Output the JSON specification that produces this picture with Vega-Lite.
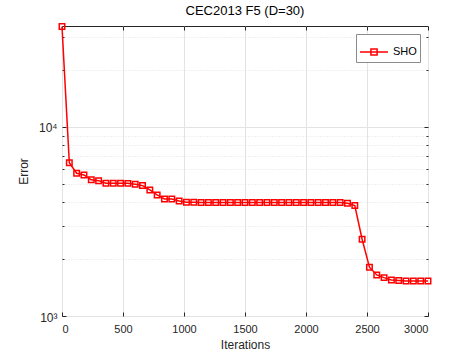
{
  "$schema": "https://vega.github.io/schema/vega-lite/v6.json",
  "autosize": {"type": "none"},
  "width": 366,
  "height": 290,
  "padding": {"left": 62, "top": 26, "right": 46, "bottom": 39},
  "background": "white",
  "title": {"text": "CEC2013 F5 (D=30)", "font": "Liberation Sans", "fontSize": 13, "fontWeight": "normal", "color": "#000000", "offset": 3},
  "config": {"view": {"stroke": "#262626", "strokeWidth": 1}, "font": "Liberation Sans"},
  "data": {"values": [
    {"iter": 0, "err": 34000, "algo": "SHO"},
    {"iter": 60, "err": 6475, "algo": "SHO"},
    {"iter": 120, "err": 5690, "algo": "SHO"},
    {"iter": 180, "err": 5570, "algo": "SHO"},
    {"iter": 240, "err": 5250, "algo": "SHO"},
    {"iter": 300, "err": 5200, "algo": "SHO"},
    {"iter": 360, "err": 5035, "algo": "SHO"},
    {"iter": 420, "err": 5035, "algo": "SHO"},
    {"iter": 480, "err": 5035, "algo": "SHO"},
    {"iter": 540, "err": 5030, "algo": "SHO"},
    {"iter": 600, "err": 4975, "algo": "SHO"},
    {"iter": 660, "err": 4895, "algo": "SHO"},
    {"iter": 720, "err": 4645, "algo": "SHO"},
    {"iter": 780, "err": 4370, "algo": "SHO"},
    {"iter": 840, "err": 4160, "algo": "SHO"},
    {"iter": 900, "err": 4155, "algo": "SHO"},
    {"iter": 960, "err": 4060, "algo": "SHO"},
    {"iter": 1020, "err": 3995, "algo": "SHO"},
    {"iter": 1080, "err": 3992, "algo": "SHO"},
    {"iter": 1140, "err": 3990, "algo": "SHO"},
    {"iter": 1200, "err": 3990, "algo": "SHO"},
    {"iter": 1260, "err": 3990, "algo": "SHO"},
    {"iter": 1320, "err": 3990, "algo": "SHO"},
    {"iter": 1380, "err": 3989, "algo": "SHO"},
    {"iter": 1440, "err": 3989, "algo": "SHO"},
    {"iter": 1500, "err": 3989, "algo": "SHO"},
    {"iter": 1560, "err": 3988, "algo": "SHO"},
    {"iter": 1620, "err": 3988, "algo": "SHO"},
    {"iter": 1680, "err": 3988, "algo": "SHO"},
    {"iter": 1740, "err": 3988, "algo": "SHO"},
    {"iter": 1800, "err": 3987, "algo": "SHO"},
    {"iter": 1860, "err": 3987, "algo": "SHO"},
    {"iter": 1920, "err": 3987, "algo": "SHO"},
    {"iter": 1980, "err": 3987, "algo": "SHO"},
    {"iter": 2040, "err": 3986, "algo": "SHO"},
    {"iter": 2100, "err": 3986, "algo": "SHO"},
    {"iter": 2160, "err": 3986, "algo": "SHO"},
    {"iter": 2220, "err": 3985, "algo": "SHO"},
    {"iter": 2280, "err": 3980, "algo": "SHO"},
    {"iter": 2340, "err": 3950, "algo": "SHO"},
    {"iter": 2400, "err": 3837, "algo": "SHO"},
    {"iter": 2460, "err": 2547, "algo": "SHO"},
    {"iter": 2520, "err": 1811, "algo": "SHO"},
    {"iter": 2580, "err": 1649, "algo": "SHO"},
    {"iter": 2640, "err": 1596, "algo": "SHO"},
    {"iter": 2700, "err": 1550, "algo": "SHO"},
    {"iter": 2760, "err": 1540, "algo": "SHO"},
    {"iter": 2820, "err": 1533, "algo": "SHO"},
    {"iter": 2880, "err": 1531, "algo": "SHO"},
    {"iter": 2940, "err": 1530, "algo": "SHO"},
    {"iter": 3000, "err": 1530, "algo": "SHO"}
  ]},
  "layer": [
    {
      "mark": {"type": "line", "strokeWidth": 1.5, "point": {"shape": "square", "filled": false, "size": 30, "strokeWidth": 1.5}},
      "encoding": {
        "x": {"field": "iter", "type": "quantitative",
          "scale": {"domain": [0, 3000], "nice": false},
          "axis": {"values": [0, 500, 1000, 1500, 2000, 2500, 3000], "format": "d", "grid": true, "gridColor": "#e3e3e3", "domain": false,
            "tickSize": -4, "tickColor": "#262626", "labelPadding": 11, "labelFontSize": 11, "labelColor": "#262626",
            "title": "Iterations", "titleFontSize": 12, "titleFontWeight": "normal", "titleColor": "#262626", "titlePadding": 5}},
        "y": {"field": "err", "type": "quantitative",
          "scale": {"type": "log", "domain": [1000, 34200], "nice": false},
          "axis": {"values": [1000, 2000, 3000, 4000, 5000, 6000, 7000, 8000, 9000, 10000, 20000, 30000],
            "grid": true, "gridColor": "#e3e3e3",
            "gridDash": {"condition": {"test": "datum.value == 1000 || datum.value == 10000", "value": []}, "value": [1, 2]},
            "domain": false,
            "tickSize": {"condition": {"test": "datum.value == 1000 || datum.value == 10000", "value": -4}, "value": -2},
            "tickColor": "#262626",
            "labelExpr": "datum.value == 1000 ? '10³' : datum.value == 10000 ? '10⁴' : ''",
            "labelPadding": 9, "labelFontSize": 12, "labelColor": "#262626", "labelOffset": 1,
            "title": "Error", "titleFontSize": 12, "titleFontWeight": "normal", "titleColor": "#262626", "titlePadding": 8}},
        "color": {"field": "algo", "type": "nominal", "scale": {"range": ["#ff0000"]},
          "legend": {"title": null, "orient": "top-right", "offset": 8, "padding": 3, "strokeColor": "#8c8c8c", "fillColor": "white",
            "symbolType": "M-1,0H1M-0.22,-0.22H0.22V0.22H-0.22Z", "symbolSize": 784, "symbolStrokeWidth": 1.5,
            "symbolStrokeColor": "#ff0000", "symbolFillColor": "transparent", "labelFontSize": 11, "labelColor": "#000000", "labelOffset": 4}}
      }
    },
    {
      "mark": {"type": "point", "opacity": 0},
      "encoding": {
        "x": {"field": "iter", "type": "quantitative",
          "axis": {"orient": "top", "values": [0, 500, 1000, 1500, 2000, 2500, 3000], "grid": false, "domain": false, "labels": false, "title": null, "tickSize": -4, "tickColor": "#262626"}},
        "y": {"field": "err", "type": "quantitative",
          "axis": {"orient": "right", "values": [1000, 2000, 3000, 4000, 5000, 6000, 7000, 8000, 9000, 10000, 20000, 30000], "grid": false, "domain": false, "labels": false, "title": null,
            "tickSize": {"condition": {"test": "datum.value == 1000 || datum.value == 10000", "value": -4}, "value": -2}, "tickColor": "#262626"}}
      }
    }
  ],
  "resolve": {"axis": {"x": "independent", "y": "independent"}}
}
